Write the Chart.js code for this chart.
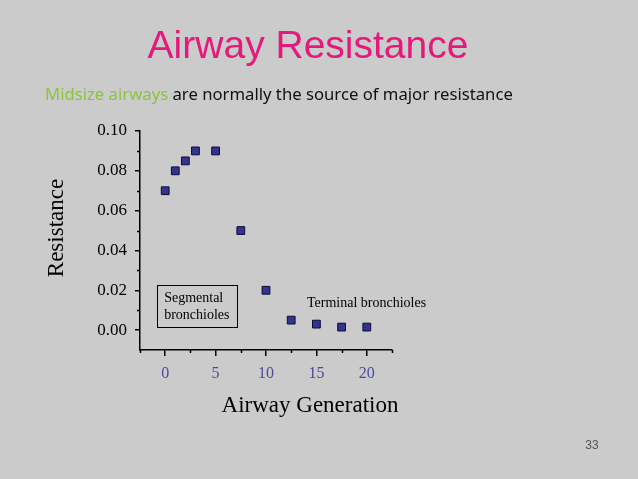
<!DOCTYPE html>
<html>
<head>
<meta charset="utf-8">
<script src="https://cdn.jsdelivr.net/npm/chart.js@4.4.0/dist/chart.umd.min.js"></script>
<style>
  html, body { margin: 0; padding: 0; background: #cbcbcb; }
  #wrap { width: 638px; height: 479px; }
</style>
</head>
<body>
<div id="wrap"><canvas id="myChart" width="638" height="479"></canvas></div>
<script>
// data
const generation = [0, 1, 2, 3, 5, 7.5, 10, 12.5, 15, 17.5, 20];
const resistance = [0.07, 0.08, 0.085, 0.09, 0.09, 0.05, 0.02, 0.005, 0.003, 0.0015, 0.0015];

const xMajorTicks = [0, 5, 10, 15, 20];
const xMinorTicks = [-2.5, 2.5, 7.5, 12.5, 17.5, 22.5];
const yMajorTicks = [0, 0.02, 0.04, 0.06, 0.08, 0.10];
const yMinorTicks = [0.01, 0.03, 0.05, 0.07, 0.09];

const ctx = document.getElementById('myChart');

// titles, minor ticks and the two notes
const slidePlugin = {
    id: 'slideText',
    afterDraw(chart) {
        const c = chart.ctx;
        const xs = chart.scales.x;
        const ys = chart.scales.y;

        c.save();

        // minor ticks
        c.strokeStyle = '#000';
        c.lineWidth = 1.5;
        c.beginPath();
        yMinorTicks.forEach(v => {
            const py = Math.round(ys.getPixelForValue(v)) + 0.5;
            c.moveTo(xs.left - 3, py);
            c.lineTo(xs.left, py);
        });
        xMinorTicks.forEach(v => {
            const px = Math.round(xs.getPixelForValue(v)) + 0.5;
            c.moveTo(px, ys.bottom);
            c.lineTo(px, ys.bottom + 3);
        });
        c.stroke();

        // slide title
        c.fillStyle = '#e5197c';
        c.font = '39px "Liberation Sans", Arial, sans-serif';
        c.textAlign = 'center';
        c.textBaseline = 'alphabetic';
        c.fillText('Airway Resistance', 308, 58);

        // subtitle, two colours
        c.textAlign = 'left';
        c.font = '16.7px "Noto Sans", Tahoma, sans-serif';
        const part1 = 'Midsize airways';
        const part2 = ' are normally the source of major resistance';
        c.fillStyle = '#8cc43c';
        c.fillText(part1, 45, 100);
        const w1 = c.measureText(part1).width;
        c.fillStyle = '#111';
        c.fillText(part2, 45 + w1, 100);

        // axis titles
        c.fillStyle = '#000';
        c.font = '23px "Liberation Serif", "Times New Roman", serif';
        c.textAlign = 'center';
        c.fillText('Airway Generation', 310, 412);
        c.save();
        c.translate(63, 228);
        c.rotate(-Math.PI / 2);
        c.fillText('Resistance', 0, 0);
        c.restore();

        // segmental bronchioles note
        const bx1 = xs.getPixelForValue(-0.8);
        const bx2 = xs.getPixelForValue(7.1);
        const by1 = ys.getPixelForValue(0.0225);
        const by2 = ys.getPixelForValue(0.0015);
        c.strokeStyle = '#000';
        c.lineWidth = 1;
        c.strokeRect(Math.round(bx1) + 0.5, Math.round(by1) + 0.5, Math.round(bx2 - bx1), Math.round(by2 - by1));
        c.font = '14px "Liberation Serif", "Times New Roman", serif';
        c.textAlign = 'left';
        c.fillText('Segmental', bx1 + 7, by1 + 17);
        c.fillText('bronchioles', bx1 + 7, by1 + 34);

        // terminal bronchioles note
        c.fillText('Terminal bronchioles', xs.getPixelForValue(14.07), ys.getPixelForValue(0.0118));

        // page number
        c.fillStyle = '#555';
        c.font = '12px "Liberation Sans", Arial, sans-serif';
        c.textAlign = 'center';
        c.textBaseline = 'middle';
        c.fillText('33', 592, 446);

        c.restore();
    }
};

new Chart(ctx, {
    type: 'scatter',
    plugins: [slidePlugin],
    data: {
        datasets: [{
            data: generation.map((g, i) => ({ x: g, y: resistance[i] })),
            pointStyle: 'rect',
            pointRadius: 5.5,
            pointHoverRadius: 5.5,
            backgroundColor: '#34348c',
            borderColor: '#0b0b3a',
            borderWidth: 1
        }]
    },
    options: {
        responsive: false,
        animation: false,
        events: [],
        layout: {
            padding: { left: 0, top: 131, right: 246, bottom: 0 }
        },
        plugins: {
            legend: { display: false },
            tooltip: { enabled: false },
            title: { display: false }
        },
        scales: {
            x: {
                type: 'linear',
                min: -2.5,
                max: 22.5,
                afterBuildTicks: scale => { scale.ticks = xMajorTicks.map(v => ({ value: v })); },
                afterFit: scale => { scale.height = 129; },
                border: { display: true, color: '#000', width: 1.5 },
                grid: { drawOnChartArea: false, drawTicks: true, tickLength: 6, color: '#000', lineWidth: 1.5 },
                ticks: {
                    padding: 8,
                    color: '#4a4a9c',
                    font: { family: '"Liberation Serif", "Times New Roman", serif', size: 16 },
                    callback: v => String(v)
                }
            },
            y: {
                type: 'linear',
                min: -0.01,
                max: 0.10,
                afterBuildTicks: scale => { scale.ticks = yMajorTicks.map(v => ({ value: v })); },
                afterFit: scale => { scale.width = 140; },
                border: { display: true, color: '#000', width: 1.5 },
                grid: { drawOnChartArea: false, drawTicks: true, tickLength: 5, color: '#000', lineWidth: 1.5 },
                ticks: {
                    padding: 8,
                    color: '#000',
                    font: { family: '"Liberation Serif", "Times New Roman", serif', size: 17 },
                    callback: v => v.toFixed(2)
                }
            }
        }
    }
});
</script>
</body>
</html>
